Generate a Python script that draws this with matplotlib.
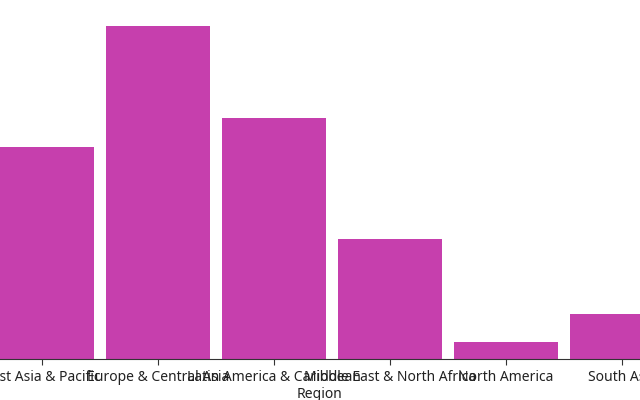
import matplotlib
matplotlib.use("Agg")
import matplotlib.pyplot as plt

plt.rcParams['font.family'] = ['Noto Sans', 'DejaVu Sans']

regions = ['East Asia & Pacific', 'Europe & Central Asia', 'Latin America & Caribbean',
           'Middle East & North Africa', 'North America', 'South Asia']
values = [212, 333, 241, 120, 17, 45]

fig = plt.figure(figsize=(6.4, 4.0), dpi=100)
ax = fig.add_axes([0, 41 / 400, 1, 359 / 400])

x = list(range(len(regions)))
ax.bar(x, values, width=104 / 116, color='#C63FAD', linewidth=0)

ax.set_xlim(-42 / 116, 598 / 116)
ax.set_ylim(0, 359)
ax.set_xticks(x)
ax.set_xticklabels(regions, fontsize=10, color='#222222')
ax.set_xlabel('Region', fontsize=10, color='#222222', labelpad=1)
ax.set_yticks([])
for s in ['left', 'right', 'top']:
    ax.spines[s].set_visible(False)
ax.spines['bottom'].set_color('#333333')
ax.tick_params(axis='x', length=4, color='#333333', pad=4)

fig.savefig('out.png', dpi=100)
